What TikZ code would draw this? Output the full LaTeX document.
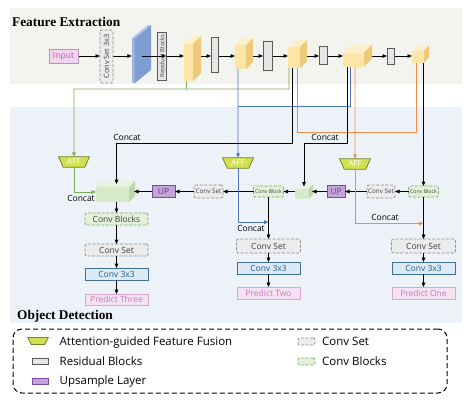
\documentclass[tikz,border=0pt]{standalone}
\usepackage{fontspec}
\setmainfont{Open Sans}
\newfontfamily\titlefont{Liberation Serif}
\usetikzlibrary{shapes.geometric,arrows.meta,calc}
\pgfdeclarelayer{panel}
\pgfdeclarelayer{wires}
\pgfsetlayers{panel,wires,main}
\newcommand\myfs[1]{\fontsize{#1}{#1}\selectfont}
\definecolor{topbg}{HTML}{F3F4EF}
\definecolor{botbg}{HTML}{EDF2F8}
\definecolor{pinkfill}{HTML}{F1D4EE}
\definecolor{pinkdraw}{HTML}{C68CC0}
\definecolor{pinktext}{HTML}{B866AC}
\definecolor{predfill}{HTML}{F6E2F3}
\definecolor{preddraw}{HTML}{D8A6D0}
\definecolor{predtext}{HTML}{C47ABA}
\definecolor{c3fill}{HTML}{DBEAF6}
\definecolor{c3draw}{HTML}{3F6F93}
\definecolor{c3text}{HTML}{2D5C86}
\definecolor{csfill}{HTML}{ECECEC}
\definecolor{csdraw}{HTML}{8E8E8E}
\definecolor{cbfill}{HTML}{E4F1DA}
\definecolor{cbdraw}{HTML}{7EAB60}
\definecolor{nodetext}{HTML}{404040}
\definecolor{resfill}{HTML}{E6E6E6}
\definecolor{resdraw}{HTML}{5A5A5A}
\definecolor{upfill}{HTML}{C5A3DB}
\definecolor{updraw}{HTML}{7C4A9E}
\definecolor{uptext}{HTML}{6A3F8F}
\definecolor{afffill}{HTML}{D0E052}
\definecolor{affdraw}{HTML}{76861F}
\definecolor{cyf}{HTML}{FBE5A7}
\definecolor{cys}{HTML}{EDC97B}
\definecolor{cyt}{HTML}{FDF0C8}
\definecolor{cgf}{HTML}{D6E9C8}
\definecolor{cgs}{HTML}{BCD7AA}
\definecolor{cgt}{HTML}{E6F2DC}
\definecolor{slabf}{HTML}{9AB4DF}
\definecolor{slabs}{HTML}{7D9DD3}
\definecolor{slabt}{HTML}{AEC4E8}
\definecolor{lgreen}{HTML}{79AD55}
\definecolor{lblue}{HTML}{4B73B5}
\definecolor{lorange}{HTML}{EF8C4A}
\newcommand\mycube[9]{%
  \node[inner sep=0, outer sep=0, minimum width=#4, minimum height=#5, fill=#7] (#1) at (#2,#3) {};
  \fill[#9] (#1.north west) -- ++(#6,-#6) -- ++(#4,0) -- (#1.north east) -- cycle;
  \fill[#8] (#1.north east) -- ++(#6,-#6) -- ++(0,#5) -- (#1.south east) -- cycle;
}
\tikzset{
  box/.style={inner sep=0, outer sep=0, line width=0.8pt},
  inputbox/.style={box, fill=pinkfill, draw=pinkdraw, text=pinktext, font=\myfs{8.5}},
  predbox/.style={box, fill=predfill, draw=preddraw, text=predtext, font=\myfs{8.5}, minimum width=63},
  convthree/.style={box, fill=c3fill, draw=c3draw, text=c3text, font=\myfs{8.5}, minimum width=63},
  convset/.style={box, fill=csfill, draw=csdraw, text=nodetext, dash pattern=on 3pt off 1.6pt, rounded corners=2pt},
  convblk/.style={box, fill=cbfill, draw=cbdraw, text=nodetext, dash pattern=on 3pt off 1.6pt, rounded corners=2pt},
  resbox/.style={box, fill=resfill, draw=resdraw, line width=0.7pt, text=nodetext},
  upbox/.style={box, fill=upfill, draw=updraw, text=uptext, font=\myfs{8.5}},
  aff/.style={trapezium, trapezium left angle=63, trapezium right angle=63, trapezium stretches=true,
     shape border rotate=180, box, fill=afffill, draw=affdraw, text=white, font=\myfs{8.3},
     minimum width=31, minimum height=10.5},
  lbl/.style={inner sep=0, font=\myfs{8.5}, text=black},
  legtext/.style={inner sep=0, anchor=west, font=\myfs{11.5}, text=black},
  tip/.style={-{Triangle[length=4.5pt,width=3.6pt]}},
  arr/.style={tip, line width=0.9pt, draw=black},
  kline/.style={line width=0.9pt, draw=black},
  gline/.style={line width=0.9pt, draw=lgreen},
  bline/.style={line width=0.9pt, draw=lblue},
  oline/.style={line width=0.9pt, draw=lorange},
  legendbox/.style={draw=black, line width=1pt, dash pattern=on 5pt off 3pt, rounded corners=9pt, inner sep=0}
}
\begin{document}
\begin{tikzpicture}[x=1pt,y=-1pt]
\useasboundingbox (0,0) rectangle (474,407);
\begin{pgfonlayer}{panel}
  \fill[topbg] (10,8) rectangle (462,84);
  \fill[botbg] (10,107) rectangle (462,323);
\end{pgfonlayer}

\node[inner sep=0, anchor=west, font=\titlefont\bfseries\myfs{13.3}] (ttop) at (12,22) {Feature Extraction};
\node[inner sep=0, anchor=west, font=\titlefont\bfseries\myfs{13.3}] (tbot) at (17,316) {Object Detection};

% ---------- backbone ----------
\coordinate (bb) at (0,56);
\node[inputbox, minimum width=29, minimum height=14] (in) at (63.5,56) {Input};
\node[convset, rotate=90, minimum width=53, minimum height=13, font=\myfs{7.3}] (cs0) at (106.5,56.5) {Conv Set 3x3};
\node[inner sep=0, minimum width=19, minimum height=58] (slab) at (141.5,54) {};
\fill[slabs] (135,38) -- (151,25) -- (151,70) -- (135,83) -- cycle;
\fill[slabt] (132,38) -- (148,25) -- (151,25) -- (135,38) -- cycle;
\fill[slabf] (132,38) rectangle (135,83);
\node[resbox, rotate=90, minimum width=48, minimum height=8.5, font=\myfs{6}] (rb) at (162,56) {Residual Blocks};
\mycube{c1}{188.5}{62.5}{9}{37}{8}{cyf}{cys}{cyt}
\node[resbox, minimum width=7, minimum height=35] (r1) at (214.5,54.5) {};
\mycube{c2}{240.5}{57}{11}{24}{7}{cyf}{cys}{cyt}
\node[resbox, minimum width=9, minimum height=29] (r2) at (267.5,55.5) {};
\mycube{c3}{294}{57.5}{12}{21}{7}{cyf}{cys}{cyt}
\node[resbox, minimum width=8, minimum height=18] (r3) at (323,55) {};
\mycube{c4}{353.5}{59.5}{21}{14}{8}{cyf}{cys}{cyt}
\node[resbox, minimum width=7, minimum height=16] (r4) at (390.5,56) {};
\mycube{c5}{418}{56.5}{12}{12}{5}{cyf}{cys}{cyt}

\begin{pgfonlayer}{wires}
\foreach \a/\b in {in.east/cs0.north, cs0.south/slab.west, rb.north/c1.west, c1.center/r1.west,
  r1.east/c2.west, c2.center/r2.west, r2.east/c3.west, c3.center/r3.west, r3.east/c4.west,
  c4.center/r4.west, r4.east/c5.west}
  \draw[arr] (\a |- bb) -- (\b |- bb);
\end{pgfonlayer}
\draw[arr] (slab.center |- bb) -- (rb.south |- bb);

% ---------- detection nodes ----------
\node[aff] (aff1) at (74,162) {AFF};
\node[aff] (aff2) at (238,163) {AFF};
\node[aff] (aff3) at (355,164) {AFF};

\mycube{bc}{112.5}{194.5}{33}{15}{6}{cgf}{cgs}{cgt}
\mycube{sc}{302}{193.5}{14}{10}{4}{cgf}{cgs}{cgt}

\node[upbox, minimum width=23, minimum height=12] (up1) at (163.5,191.5) {UP};
\node[convset, minimum width=29, minimum height=13, font=\myfs{6.3}] (csr1) at (208.5,191.5) {Conv Set};
\node[convblk, minimum width=30, minimum height=11, font=\myfs{5.2}] (cbM) at (268.5,191.5) {Conv Block};
\node[upbox, minimum width=18, minimum height=12] (up2) at (336,191.5) {UP};
\node[convset, minimum width=28, minimum height=13, font=\myfs{6.3}] (csr2) at (381,191.5) {Conv Set};
\node[convblk, minimum width=30, minimum height=11, font=\myfs{5.2}] (cbR) at (423.5,191.5) {Conv Block};

\node[convblk, minimum width=63, minimum height=12, font=\myfs{8.5}] (cb1) at (116.5,219) {Conv Blocks};
\node[convset, minimum width=63, minimum height=12, font=\myfs{8.5}] (cs1) at (116.5,250) {Conv Set};
\node[convthree, minimum height=12] (cv1) at (116.5,274) {Conv 3x3};
\node[predbox, minimum height=11] (pr1) at (116.5,299.5) {Predict Three};

\node[convset, minimum width=64, minimum height=14, font=\myfs{8.5}] (csB) at (268.5,246) {Conv Set};
\node[convthree, minimum height=12] (cvB) at (268.5,268) {Conv 3x3};
\node[predbox, minimum height=12] (prB) at (268.5,293) {Predict Two};

\node[convset, minimum width=64, minimum height=14, font=\myfs{8.5}] (csC) at (423.5,246) {Conv Set};
\node[convthree, minimum height=12] (cvC) at (423.5,268) {Conv 3x3};
\node[predbox, minimum height=12] (prC) at (423.5,293) {Predict One};

% ---------- labels ----------
\node[lbl] (l1) at (127,137) {Concat};
\node[lbl] (l2) at (81,198.5) {Concat};
\node[lbl] (l3) at (325,137) {Concat};
\node[lbl] (l4) at (251,228.5) {Concat};
\node[lbl] (l5) at (385,217) {Concat};

% ---------- colored skip connections ----------
\coordinate (gbus) at (74,89);
\coordinate (bbus) at (238,106);
\coordinate (obus) at (297,132);
\coordinate (k1) at (116.5,143);
\coordinate (k2) at (304,143);

\draw[gline] ([xshift=-2.5pt]c1.south) -- ([xshift=-2.5pt]c1.south |- gbus);
\draw[gline, tip] ([xshift=-5pt]c3.south) |- (gbus) -- (aff1.north);
\draw[bline] ([xshift=-3.5pt]c4.south) |- (bbus);
\draw[bline, tip] ([xshift=-2.5pt]c2.south) -- (aff2.north);
\draw[oline] ([xshift=3pt]c3.south) -- (obus) -| ([xshift=-2pt]c5.south);
\draw[oline, tip] ([xshift=1.5pt]c4.south) -- (aff3.north);

\draw[kline, tip] ([xshift=-2pt]c3.south) |- (k1) -- ($(k1 |- bc.north)+(0,-3)$);
\draw[kline, tip] ([xshift=-6.5pt]c4.south) |- (k2) -- ($(k2 |- sc.north)+(0,-2)$);
\draw[arr] ([xshift=5.5pt]c5.south) -- (cbR.north);

% AFF outputs
\draw[gline, tip] (aff1.south) |- ($(bc.west)+(0,-2.5)$);
\coordinate (bj) at ($(cbM.south)!0.6!(csB.north)$);
\coordinate (oj) at ($(cbR.south)!0.63!(csC.north)$);

% row arrows
\draw[arr] (cbR.west) -- (csr2.east);
\draw[arr] (csr2.west) -- (up2.east);
\draw[arr] (up2.west) -- ($(sc.east |- up2.west)+(3,0)$);
\draw[arr] (sc.west |- cbM.east) -- (cbM.east);
\draw[arr] (cbM.west) -- (csr1.east);
\draw[arr] (csr1.west) -- (up1.east);
\draw[arr] (up1.west) -- ($(bc.east |- up1.west)+(5,0)$);

% columns
\draw[arr] (cb1.north |- bc.south) -- (cb1.north);
\draw[arr] (cb1.south) -- (cs1.north);
\draw[arr] (cs1.south) -- (cv1.north);
\draw[arr] (cv1.south) -- (pr1.north);
\draw[arr] (cbM.south) -- (csB.north);
\draw[arr] (csB.south) -- (cvB.north);
\draw[arr] (cvB.south) -- (prB.north);
\draw[arr] (cbR.south) -- (csC.north);
\draw[arr] (csC.south) -- (cvC.north);
\draw[arr] (cvC.south) -- (prC.north);

\draw[bline, tip] (aff2.south) |- (bj);
\draw[oline, tip] (aff3.south) |- (oj);

% ---------- legend ----------
\node[legendbox, minimum width=434, minimum height=64] (leg) at (230,361) {};
\node[inner sep=0, minimum width=20, minimum height=6.5] (i1) at (38,341) {};
\filldraw[fill=afffill, draw=affdraw, line width=0.8pt] (i1.north west) -- (i1.north east) -- ($(i1.south east)+(-3.5,0)$) -- ($(i1.south west)+(3.5,0)$) -- cycle;
\node[resbox, minimum width=16, minimum height=6] (i2) at (40,361) {};
\node[upbox, minimum width=16, minimum height=6] (i3) at (40,381) {};
\node[convset, minimum width=17, minimum height=7] (i4) at (306.5,341.5) {};
\node[convblk, minimum width=17, minimum height=7] (i5) at (306.5,361.5) {};
\node[legtext] (lt1) at (59.5,342.5) {Attention-guided Feature Fusion};
\node[legtext] (lt2) at (59.5,361) {Residual Blocks};
\node[legtext] (lt3) at (59.5,382) {Upsample Layer};
\node[legtext] (lt4) at (322,341.5) {Conv Set};
\node[legtext] (lt5) at (322,361.5) {Conv Blocks};
\end{tikzpicture}
\end{document}
